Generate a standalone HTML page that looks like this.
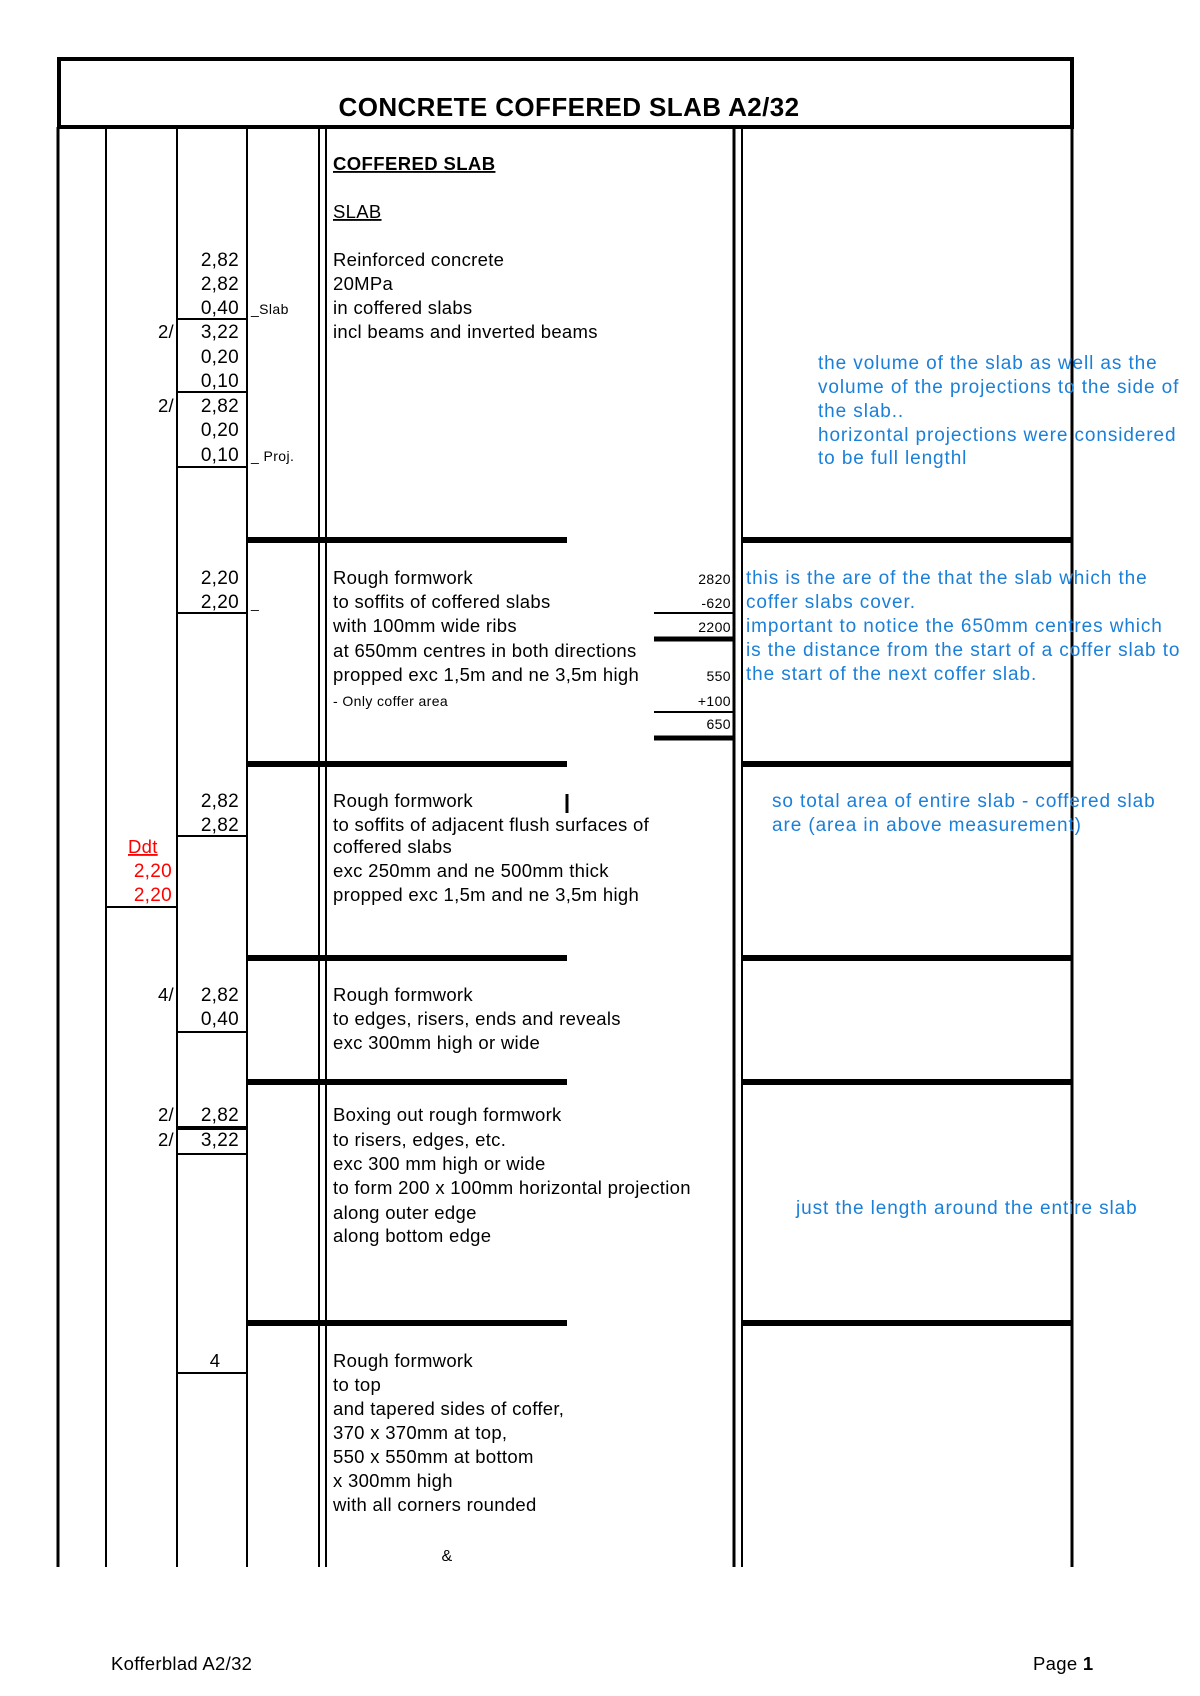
<!DOCTYPE html>
<html><head><meta charset="utf-8"><style>
html,body{margin:0;padding:0;background:#fff;}
svg{display:block;}
text{font-family:"Liberation Sans",Arial,sans-serif;font-size:18.5px;fill:#000;letter-spacing:0.3px;}
.r{text-anchor:end;}
.s{font-size:14px;letter-spacing:0.4px;}
.b{fill:#1a7fd8;font-size:19px;letter-spacing:0.9px;}
.red{fill:#ff0000;}
.n{font-size:19px;letter-spacing:0.3px;}
</style></head><body>
<svg width="1200" height="1696" viewBox="0 0 1200 1696" xmlns="http://www.w3.org/2000/svg">
<g stroke="#000" fill="none">
<rect x="59" y="59" width="1013" height="68" stroke-width="4"/>
<line x1="58" y1="127" x2="58" y2="1567" stroke-width="3"/>
<line x1="1072" y1="127" x2="1072" y2="1567" stroke-width="3"/>
<line x1="106" y1="127" x2="106" y2="1567" stroke-width="2"/>
<line x1="177" y1="127" x2="177" y2="1567" stroke-width="2"/>
<line x1="247" y1="127" x2="247" y2="1567" stroke-width="2"/>
<line x1="319" y1="127" x2="319" y2="1567" stroke-width="2"/>
<line x1="326" y1="127" x2="326" y2="1567" stroke-width="2"/>
<line x1="734" y1="127" x2="734" y2="1567" stroke-width="3"/>
<line x1="742" y1="127" x2="742" y2="1567" stroke-width="2"/>
<g stroke-width="2">
<line x1="177" y1="319" x2="247" y2="319"/>
<line x1="177" y1="392" x2="247" y2="392"/>
<line x1="177" y1="467" x2="247" y2="467"/>
<line x1="177" y1="613" x2="247" y2="613"/>
<line x1="177" y1="836" x2="247" y2="836"/>
<line x1="106" y1="907" x2="177" y2="907"/>
<line x1="177" y1="1032" x2="247" y2="1032"/>
<line x1="177" y1="1154" x2="247" y2="1154"/>
<line x1="177" y1="1373" x2="247" y2="1373"/>
<line x1="654" y1="613" x2="734" y2="613"/>
<line x1="654" y1="712" x2="734" y2="712"/>
</g>
<line x1="177" y1="1128" x2="247" y2="1128" stroke-width="4"/>
<line x1="654" y1="639" x2="734" y2="639" stroke-width="5"/>
<line x1="654" y1="738" x2="734" y2="738" stroke-width="5"/>
<line x1="567" y1="794" x2="567" y2="813" stroke-width="3"/>
<g stroke-width="6">
<line x1="247" y1="540" x2="567" y2="540"/><line x1="742" y1="540" x2="1072" y2="540"/>
<line x1="247" y1="764" x2="567" y2="764"/><line x1="742" y1="764" x2="1072" y2="764"/>
<line x1="247" y1="958" x2="567" y2="958"/><line x1="742" y1="958" x2="1072" y2="958"/>
<line x1="247" y1="1082" x2="567" y2="1082"/><line x1="742" y1="1082" x2="1072" y2="1082"/>
<line x1="247" y1="1323" x2="567" y2="1323"/><line x1="742" y1="1323" x2="1072" y2="1323"/>
</g>
</g>
<text x="569" y="116" text-anchor="middle" style="font-size:26px;font-weight:bold;letter-spacing:0.4px">CONCRETE COFFERED SLAB A2/32</text>

<text x="333" y="170" style="font-weight:bold;text-decoration:underline;letter-spacing:0.4px">COFFERED SLAB</text>
<text x="333" y="218" text-decoration="underline">SLAB</text>

<text class="r n" x="239" y="266">2,82</text>
<text class="r n" x="239" y="290">2,82</text>
<text class="r n" x="239" y="314">0,40</text>
<text class="r n" x="239" y="338">3,22</text>
<text class="r n" x="239" y="363">0,20</text>
<text class="r n" x="239" y="387">0,10</text>
<text class="r n" x="239" y="412">2,82</text>
<text class="r n" x="239" y="436">0,20</text>
<text class="r n" x="239" y="461">0,10</text>
<text class="r" x="174" y="338">2/</text>
<text class="r" x="174" y="412">2/</text>
<text class="r n" x="239" y="584">2,20</text>
<text class="r n" x="239" y="608">2,20</text>
<text class="r n" x="239" y="807">2,82</text>
<text class="r n" x="239" y="831">2,82</text>
<text class="r red n" x="172" y="877">2,20</text>
<text class="r red n" x="172" y="901">2,20</text>
<text class="r n" x="239" y="1001">2,82</text>
<text class="r n" x="239" y="1025">0,40</text>
<text class="r" x="174" y="1001">4/</text>
<text class="r n" x="239" y="1121">2,82</text>
<text class="r n" x="239" y="1146">3,22</text>
<text class="r" x="174" y="1121">2/</text>
<text class="r" x="174" y="1146">2/</text>
<text class="red" x="128" y="853" text-decoration="underline">Ddt</text>
<text x="215" y="1367" text-anchor="middle">4</text>
<text class="s" x="251" y="314">_Slab</text>
<text class="s" x="251" y="461">_ Proj.</text>
<text class="s" x="251" y="608">_</text>

<text x="333" y="266">Reinforced concrete</text>
<text x="333" y="290">20MPa</text>
<text x="333" y="314">in coffered slabs</text>
<text x="333" y="338">incl beams and inverted beams</text>

<text x="333" y="584">Rough formwork</text>
<text x="333" y="608">to soffits of coffered slabs</text>
<text x="333" y="632">with 100mm wide ribs</text>
<text x="333" y="657">at 650mm centres in both directions</text>
<text x="333" y="681">propped exc 1,5m and ne 3,5m high</text>
<text class="s" x="333" y="706">- Only coffer area</text>

<text class="r s" x="731" y="584">2820</text>
<text class="r s" x="731" y="608">-620</text>
<text class="r s" x="731" y="632">2200</text>
<text class="r s" x="731" y="681">550</text>
<text class="r s" x="731" y="706">+100</text>
<text class="r s" x="731" y="729">650</text>

<text x="333" y="807">Rough formwork</text>
<text x="333" y="831">to soffits of adjacent flush surfaces of</text>
<text x="333" y="853">coffered slabs</text>
<text x="333" y="877">exc 250mm and ne 500mm thick</text>
<text x="333" y="901">propped exc 1,5m and ne 3,5m high</text>

<text x="333" y="1001">Rough formwork</text>
<text x="333" y="1025">to edges, risers, ends and reveals</text>
<text x="333" y="1049">exc 300mm high or wide</text>

<text x="333" y="1121">Boxing out rough formwork</text>
<text x="333" y="1146">to risers, edges, etc.</text>
<text x="333" y="1170">exc 300 mm high or wide</text>
<text x="333" y="1194">to form 200 x 100mm horizontal projection</text>
<text x="333" y="1219">along outer edge</text>
<text x="333" y="1242">along bottom edge</text>

<text x="333" y="1367">Rough formwork</text>
<text x="333" y="1391">to top</text>
<text x="333" y="1415">and tapered sides of coffer,</text>
<text x="333" y="1439">370 x 370mm at top,</text>
<text x="333" y="1463">550 x 550mm at bottom</text>
<text x="333" y="1487">x 300mm high</text>
<text x="333" y="1511">with all corners rounded</text>
<text x="447" y="1561" text-anchor="middle" style="font-size:16px">&amp;</text>

<text class="b" x="818" y="369">the volume of the slab as well as the</text>
<text class="b" x="818" y="393">volume of the projections to the side of</text>
<text class="b" x="818" y="417">the slab..</text>
<text class="b" x="818" y="441">horizontal projections were considered</text>
<text class="b" x="818" y="464">to be full lengthl</text>

<text class="b" x="746" y="584">this is the are of the that the slab which the</text>
<text class="b" x="746" y="608">coffer slabs cover.</text>
<text class="b" x="746" y="632">important to notice the 650mm centres which</text>
<text class="b" x="746" y="656">is the distance from the start of a coffer slab to</text>
<text class="b" x="746" y="680">the start of the next coffer slab.</text>

<text class="b" x="772" y="807">so total area of entire slab - coffered slab</text>
<text class="b" x="772" y="831">are (area in above measurement)</text>

<text class="b" x="796" y="1214">just the length around the entire slab</text>

<text x="111" y="1670">Kofferblad A2/32</text>
<text x="1033" y="1670">Page <tspan style="font-weight:bold">1</tspan></text>
</svg>
</body></html>
